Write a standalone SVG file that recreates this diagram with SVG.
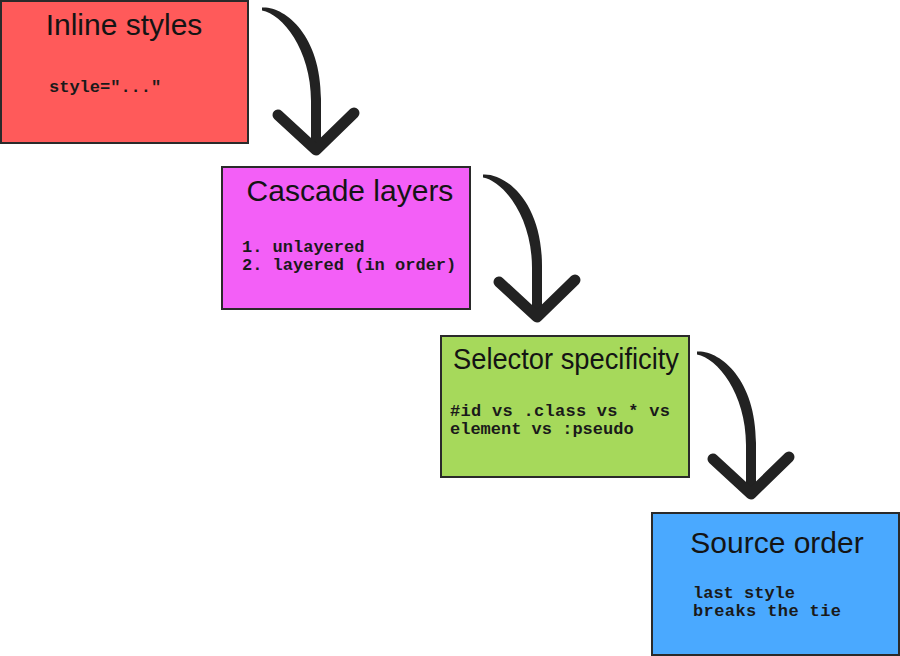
<svg xmlns="http://www.w3.org/2000/svg" width="900" height="656" viewBox="0 0 900 656">
<defs>
<style>
.box{stroke:#2a2a2a;stroke-width:2}
.title{font-family:"Liberation Sans",Arial,sans-serif;font-size:30px;fill:#141414;text-anchor:middle}
.mono{font-family:"Liberation Mono","Courier New",monospace;font-size:17px;font-weight:bold;fill:#1a1a1a}
.body{fill:#222}
.head{fill:none;stroke:#222;stroke-width:11;stroke-linecap:round;stroke-linejoin:round}
</style>
<g id="arrowShape">
<path class="body" d="M0,-1.5 C22,-3 59,25 59,90 L59,141 L49,141 L49,92 C49,40 20,5 0,1.5 Z"/>
<polyline class="head" points="16,106 54,141 92,104"/>
</g>
</defs>
<rect width="900" height="656" fill="#ffffff"/>
<g id="node-inline">
<rect class="box" x="1" y="1" width="247" height="142" fill="#ff5a5a"/>
<text class="title" x="124" y="35">Inline styles</text>
<text class="mono" x="49" y="92">style="..."</text>
</g>
<g id="node-layers">
<rect class="box" x="222" y="167" width="248" height="142" fill="#f35ff7"/>
<text class="title" x="350" y="201">Cascade layers</text>
<text class="mono" x="242" y="252">1. unlayered</text>
<text class="mono" x="242" y="270">2. layered (in order)</text>
</g>
<g id="node-specificity">
<rect class="box" x="441" y="336" width="248" height="141" fill="#a6d95b"/>
<text class="title" x="566" y="369" textLength="226" lengthAdjust="spacingAndGlyphs">Selector specificity</text>
<text class="mono" x="450" y="416" textLength="220" lengthAdjust="spacing">#id vs .class vs * vs</text>
<text class="mono" x="450" y="434">element vs :pseudo</text>
</g>
<g id="node-source">
<rect class="box" x="652" y="513" width="247" height="142" fill="#4aa9ff"/>
<text class="title" x="777" y="553">Source order</text>
<text class="mono" x="693" y="598">last style</text>
<text class="mono" x="693" y="616" textLength="148" lengthAdjust="spacing">breaks the tie</text>
</g>
<g id="connectors">
<use href="#arrowShape" transform="translate(262,9)"/>
<use href="#arrowShape" transform="translate(483,176)"/>
<use href="#arrowShape" transform="translate(697,353)"/>
</g>
</svg>
